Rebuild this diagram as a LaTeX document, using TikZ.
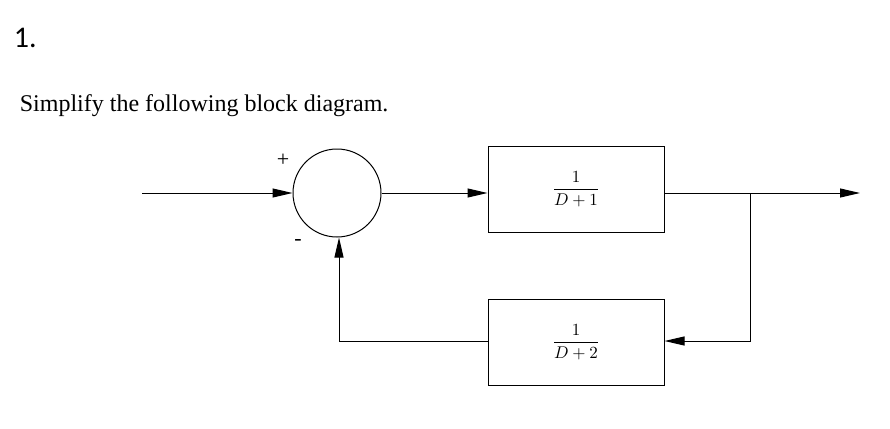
\documentclass[tikz,border=0pt]{standalone}
\usepackage{amsmath}
\usepackage{fontspec}
\setmainfont{Liberation Serif}
\newfontfamily\numfont{Carlito}
\usetikzlibrary{arrows.meta}
\begin{document}
\begin{tikzpicture}[x=1pt,y=-1pt,line width=1pt,
    blk/.style={draw,minimum width=176pt,minimum height=86pt,inner sep=0pt},
    sig/.style={-{Triangle[length=20pt,width=9pt]}}]
    \useasboundingbox (0,0) rectangle (890,428);
    \node[anchor=west,font=\numfont\fontsize{30}{32}\selectfont] (num) at (10,38) {1.};
    \node[anchor=west,font=\fontsize{24}{27}\selectfont] (task) at (16,106) {Simplify the following block diagram.};
    \node[draw,circle,minimum size=88pt,inner sep=0pt] (sum) at (337,193) {};
    \node[blk] (fwd) at (576,189) {\scalebox{1.7}{$\dfrac{1}{D+1}$}};
    \node[blk] (back) at (576,342) {\scalebox{1.7}{$\dfrac{1}{D+2}$}};
    \coordinate (in) at (142,193);
    \coordinate (out) at (860,193);
    \coordinate (split) at (750,193);
    \coordinate (turn) at (339,341);
    \node[font=\fontsize{22}{24}\selectfont] (plus) at (283,160) {+};
    \node[font=\fontsize{22}{24}\selectfont] (minus) at (298,242) {-};
    \draw[sig] (in) -- (sum);
    \draw[sig] (sum) -- (fwd.west |- sum);
    \draw[sig] (fwd.east |- sum) -- (out);
    \draw[sig] (split) |- (back.east |- turn);
    \draw[sig] (back.west |- turn) -- (turn) -- (sum.south -| turn);
\end{tikzpicture}
\end{document}
